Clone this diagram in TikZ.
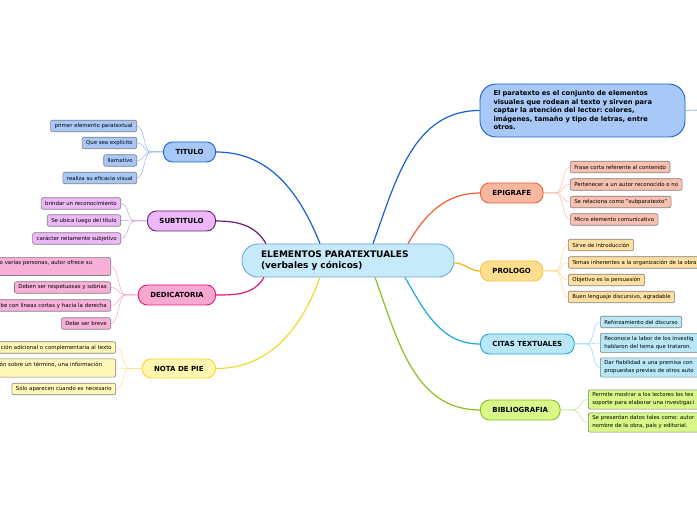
\documentclass[tikz,border=0pt]{standalone}
\usepackage{fontspec}
\setmainfont{DejaVu Sans}
\usepackage{tikz}
\usetikzlibrary{calc}
\frenchspacing

\definecolor{cenF}{HTML}{C6EAF9}
\definecolor{cenB}{HTML}{5FA8DA}
\definecolor{titF}{HTML}{A8C8F8}
\definecolor{titB}{HTML}{1A5FD0}
\definecolor{titL}{HTML}{8FB8F0}
\definecolor{subF}{HTML}{ECB8F8}
\definecolor{subB}{HTML}{6A1B7A}
\definecolor{subL}{HTML}{C898D8}
\definecolor{dedF}{HTML}{F8A8D0}
\definecolor{dedB}{HTML}{E8157A}
\definecolor{dedL}{HTML}{F8A0C8}
\definecolor{dedH}{HTML}{F8B0D8}
\definecolor{notF}{HTML}{FFF7B0}
\definecolor{notB}{HTML}{F0D830}
\definecolor{notL}{HTML}{F5E38A}
\definecolor{notH}{HTML}{FFF8B8}
\definecolor{epiF}{HTML}{F8B8A0}
\definecolor{epiB}{HTML}{F0602E}
\definecolor{epiL}{HTML}{F8B8A8}
\definecolor{epiH}{HTML}{F8C0B0}
\definecolor{proF}{HTML}{FFDF8E}
\definecolor{proB}{HTML}{F8C040}
\definecolor{proR}{HTML}{F8B400}
\definecolor{proL}{HTML}{FCD98C}
\definecolor{proH}{HTML}{FFE0A0}
\definecolor{citF}{HTML}{B8E8F8}
\definecolor{citB}{HTML}{1AA8E2}
\definecolor{citL}{HTML}{90D4F4}
\definecolor{bibF}{HTML}{D8F888}
\definecolor{bibB}{HTML}{8CBE1E}
\definecolor{bibL}{HTML}{C0E080}
\definecolor{hojaB}{HTML}{7F7F7F}

\tikzset{
  tema/.style={draw, line width=0.9pt, rounded corners=9pt, minimum height=20pt,
    inner xsep=12pt, inner ysep=0pt, font=\fontsize{7}{8}\selectfont\bfseries},
  hoja/.style={draw=hojaB, line width=0.6pt, rounded corners=2pt, minimum height=11.5pt,
    inner xsep=4pt, inner ysep=2pt, font=\fontsize{5.4}{8}\selectfont},
  doble/.style={hoja, align=left, inner ysep=3pt},
  rama/.style={line width=1.2pt},
  ramita/.style={line width=0.5pt}
}

\begin{document}
\begin{tikzpicture}[x=1pt, y=1pt]
    \useasboundingbox (0,0) rectangle (697,520);
    \clip (0,0) rectangle (697,520);

    % nodo central
    \node[draw=cenB, fill=cenF, line width=0.8pt, rounded corners=16pt, minimum width=212pt,
      minimum height=33pt, text width=174pt, align=left, inner sep=0pt,
      font=\fontsize{9}{10.5}\selectfont\bfseries] (cen) at (348,259.5)
      {ELEMENTOS PARATEXTUALES\\(verbales y cónicos)};

    % definicion
    \node[draw=titB, fill=titF, line width=0.9pt, rounded corners=16pt, minimum width=205pt,
      minimum height=53pt, text width=178pt, align=left, inner sep=0pt,
      font=\fontsize{6.7}{8.5}\selectfont\bfseries] (def) at (582.5,409.5)
      {El paratexto es el conjunto de elementos\\visuales que rodean al texto y sirven para\\captar la atención del lector: colores,\\imágenes, tamaño y tipo de letras, entre\\otros.};
    \coordinate (defsal) at (700,410);
    \draw[titL, line width=0.8pt] (def.east) -- (defsal);
    \draw[rama, titB] ([xshift=25pt]cen.north) to[out=70,in=180] (def.west);

    % TITULO
    \node[tema, draw=titB, fill=titF, anchor=east] (titulo) at (216,368) {TITULO};
    \draw[rama, titB] ([xshift=-28pt]cen.north) to[out=112,in=0] (titulo.east);
    \foreach \txt/\yy [count=\i] in {primer elemento paratextual/394, Que sea explícito/377,
        llamativo/359.5, realiza su eficacia visual/342} {
        \node[hoja, fill=titF, anchor=east] (tit\i) at (137,\yy) {\txt};
        \draw[ramita, titL] (titulo.west) -- ++(-12,0) .. controls +(-8,0) and +(8,0) .. (tit\i.east);
    }

    % SUBTITULO
    \node[tema, draw=subB, fill=subF, anchor=east] (subtitulo) at (216,299) {SUBTITULO};
    \draw[rama, subB] ([xshift=-82pt]cen.north) to[out=120,in=0] (subtitulo.east);
    \foreach \txt/\yy [count=\i] in {brindar un reconocimiento/316.5, Se ubica luego del título/299.5,
        carácter netamente subjetivo/281.5} {
        \node[hoja, fill=subF, anchor=east] (sub\i) at (121,\yy) {\txt};
        \draw[ramita, subL] (subtitulo.west) -- ++(-12,0) .. controls +(-8,0) and +(8,0) .. (sub\i.east);
    }

    % DEDICATORIA
    \node[tema, draw=dedB, fill=dedF, anchor=east] (dedicatoria) at (216,225) {DEDICATORIA};
    \draw[rama, dedB] ([xshift=-84pt]cen.south) to[out=-120,in=0] (dedicatoria.east);
    \node[doble, fill=dedH, anchor=east, text width=107pt] (ded1) at (111,253.5)
      {o varias personas, autor ofrece su\\\mbox{}};
    \node[hoja, fill=dedH, anchor=east] (ded2) at (111,232.5) {Deben ser respetuosas y sobrias};
    \node[hoja, fill=dedH, anchor=east, text width=125pt, align=right] (ded3) at (111,214.5)
      {be con líneas cortas y hacia la derecha};
    \node[hoja, fill=dedH, anchor=east] (ded4) at (111,196.5) {Debe ser breve};
    \foreach \i in {1,...,4} {
        \draw[ramita, dedL] (dedicatoria.west) -- ++(-12,0) .. controls +(-8,0) and +(8,0) .. (ded\i.east);
    }

    % NOTA DE PIE
    \node[tema, draw=notB, fill=notF, anchor=east, minimum height=19pt] (nota) at (216,151.5) {NOTA DE PIE};
    \draw[rama, notB] ([xshift=-28pt]cen.south) to[out=-110,in=0] (nota.east);
    \node[hoja, fill=notH, anchor=east, text width=125pt, align=right] (not1) at (116,172.5)
      {ción adicional o complementaria al texto};
    \node[doble, fill=notH, anchor=east, text width=112pt] (not2) at (116,152)
      {ón sobre un término, una información\\\mbox{}};
    \node[hoja, fill=notH, anchor=east] (not3) at (116,131) {Sólo aparecen cuando es necesario};
    \foreach \i in {1,...,3} {
        \draw[ramita, notL] (nota.west) -- ++(-12,0) .. controls +(-8,0) and +(8,0) .. (not\i.east);
    }

    % EPIGRAFE
    \node[tema, draw=epiB, fill=epiF, anchor=west] (epigrafe) at (480,327) {EPIGRAFE};
    \draw[rama, epiB] ([xshift=60pt]cen.north) to[out=60,in=180] (epigrafe.west);
    \foreach \txt/\yy [count=\i] in {Frase corta referente al contenido/353,
        Pertenecer a un autor reconocido o no/335.5, Se relaciona como "subparatexto"/318,
        Micro elemento comunicativo/300.5} {
        \node[hoja, fill=epiH, anchor=west] (epi\i) at (570,\yy) {\txt};
        \draw[ramita, epiL] (epigrafe.east) -- ++(12,0) .. controls +(8,0) and +(-8,0) .. (epi\i.west);
    }

    % PROLOGO
    \node[tema, draw=proB, fill=proF, anchor=west] (prologo) at (480,249) {PROLOGO};
    \draw[rama, proR] ([yshift=-2.5pt]cen.east) to[out=0,in=180] (prologo.west);
    \foreach \txt/\yy [count=\i] in {Sirve de introducción/275,
        Temas inherentes a la organización de la obra/257.5, Objetivo es la persuasión/240,
        {Buen lenguaje discursivo, agradable}/223} {
        \node[hoja, fill=proH, anchor=west] (pro\i) at (568,\yy) {\txt};
        \draw[ramita, proL] (prologo.east) -- ++(12,0) .. controls +(8,0) and +(-8,0) .. (pro\i.west);
    }

    % CITAS TEXTUALES
    \node[tema, draw=citB, fill=citF, anchor=west] (citas) at (480,176) {CITAS TEXTUALES};
    \draw[rama, citB] ([xshift=57pt]cen.south) to[out=-60,in=180] (citas.west);
    \node[hoja, fill=citF, anchor=west] (cit1) at (600,198) {Reforzamiento del discurso};
    \node[doble, fill=citF, anchor=west, text width=150pt] (cit2) at (600,177)
      {Reconoce la labor de los investig\\hablaron del tema que trataron.};
    \node[doble, fill=citF, anchor=west, text width=150pt] (cit3) at (600,152.5)
      {Dar fiabilidad a una premisa con\\propuestas previas de otros auto};
    \foreach \i in {1,...,3} {
        \draw[ramita, citL] (citas.east) -- ++(12,0) .. controls +(8,0) and +(-8,0) .. (cit\i.west);
    }

    % BIBLIOGRAFIA
    \node[tema, draw=bibB, fill=bibF, anchor=west] (biblio) at (480,110) {BIBLIOGRAFIA};
    \draw[rama, bibB] ([xshift=27pt]cen.south) to[out=-70,in=180] (biblio.west);
    \node[doble, fill=bibF, anchor=west, text width=150pt] (bib1) at (588,120.5)
      {Permite mostrar a los lectores los tex\\soporte para elaborar una investigaci};
    \node[doble, fill=bibF, anchor=west, text width=150pt] (bib2) at (588,97.5)
      {Se presentan datos tales como: autor\\nombre de la obra, país y editorial.};
    \foreach \i in {1,2} {
        \draw[ramita, bibL] (biblio.east) -- ++(12,0) .. controls +(8,0) and +(-8,0) .. (bib\i.west);
    }
\end{tikzpicture}
\end{document}
